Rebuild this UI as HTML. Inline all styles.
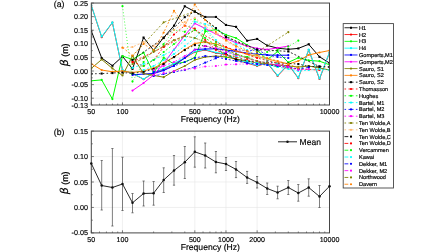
<!DOCTYPE html>
<html><head><meta charset="utf-8"><title>Figure</title>
<style>html,body{margin:0;padding:0;background:#fff}body{width:448px;height:252px;overflow:hidden}svg{display:block;filter:blur(0.3px)}text{stroke:#000;stroke-width:0.16px}</style>
</head><body>
<svg width="448" height="252" viewBox="0 0 448 252" font-family="'Liberation Sans', sans-serif" fill="#000" text-rendering="geometricPrecision">
<rect width="448" height="252" fill="#fff"/>
<g stroke="#e6e6e6" stroke-width="0.6" fill="none">
<path d="M91.3 16.64H329.5"/>
<path d="M91.3 30.24H329.5"/>
<path d="M91.3 43.83H329.5"/>
<path d="M91.3 57.42H329.5"/>
<path d="M91.3 71.02H329.5"/>
<path d="M91.3 84.61H329.5"/>
<path d="M91.3 98.20H329.5"/>
<path d="M122.46 3.05V105.0"/>
<path d="M194.82 3.05V105.0"/>
<path d="M225.98 3.05V105.0"/>
<path d="M91.3 156.55H329.5"/>
<path d="M91.3 182.00H329.5"/>
<path d="M91.3 207.45H329.5"/>
<path d="M122.46 131.1V232.9"/>
<path d="M194.82 131.1V232.9"/>
<path d="M225.98 131.1V232.9"/>
<path d="M257.14 131.1V232.9"/>
</g>
<defs><clipPath id="ca"><rect x="91.3" y="3.05" width="238.2" height="101.95"/></clipPath></defs>
<g clip-path="url(#ca)" fill="none" stroke-linejoin="round">
<path d="M91.3 31.0L101.7 58.0L112.4 65.7L122.5 56.4L132.5 68.8L143.6 37.5L153.6 50.3L163.7 37.5L174.0 25.7L184.8 6.3L194.8 11.6L205.2 17.0L215.9 17.0L226.0 25.0L236.0 26.8L247.1 40.7L257.1 38.9L267.2 45.5L277.6 48.1L288.3 49.3L298.3 48.4L308.7 44.3L319.5 56.8L329.5 63.0" stroke="#000" stroke-width="1"/>
<rect x="90.2" y="29.9" width="2.1" height="2.1" fill="#000" stroke="none"/>
<rect x="100.6" y="57.0" width="2.1" height="2.1" fill="#000" stroke="none"/>
<rect x="111.4" y="64.7" width="2.1" height="2.1" fill="#000" stroke="none"/>
<rect x="121.4" y="55.4" width="2.1" height="2.1" fill="#000" stroke="none"/>
<rect x="131.4" y="67.8" width="2.1" height="2.1" fill="#000" stroke="none"/>
<rect x="142.5" y="36.5" width="2.1" height="2.1" fill="#000" stroke="none"/>
<rect x="152.6" y="49.2" width="2.1" height="2.1" fill="#000" stroke="none"/>
<rect x="162.6" y="36.5" width="2.1" height="2.1" fill="#000" stroke="none"/>
<rect x="173.0" y="24.6" width="2.1" height="2.1" fill="#000" stroke="none"/>
<rect x="183.7" y="5.2" width="2.1" height="2.1" fill="#000" stroke="none"/>
<rect x="193.8" y="10.5" width="2.1" height="2.1" fill="#000" stroke="none"/>
<rect x="204.2" y="15.9" width="2.1" height="2.1" fill="#000" stroke="none"/>
<rect x="214.9" y="15.9" width="2.1" height="2.1" fill="#000" stroke="none"/>
<rect x="224.9" y="23.9" width="2.1" height="2.1" fill="#000" stroke="none"/>
<rect x="235.0" y="25.8" width="2.1" height="2.1" fill="#000" stroke="none"/>
<rect x="246.1" y="39.7" width="2.1" height="2.1" fill="#000" stroke="none"/>
<rect x="256.1" y="37.9" width="2.1" height="2.1" fill="#000" stroke="none"/>
<rect x="266.1" y="44.5" width="2.1" height="2.1" fill="#000" stroke="none"/>
<rect x="276.5" y="47.1" width="2.1" height="2.1" fill="#000" stroke="none"/>
<rect x="287.3" y="48.2" width="2.1" height="2.1" fill="#000" stroke="none"/>
<rect x="297.3" y="47.4" width="2.1" height="2.1" fill="#000" stroke="none"/>
<rect x="307.7" y="43.2" width="2.1" height="2.1" fill="#000" stroke="none"/>
<rect x="318.4" y="55.8" width="2.1" height="2.1" fill="#000" stroke="none"/>
<rect x="328.4" y="62.0" width="2.1" height="2.1" fill="#000" stroke="none"/>
<path d="M91.3 5.4L101.7 37.2L112.4 22.6L122.5 70.3L132.5 73.6L143.6 79.2L153.6 73.0L163.7 69.0L174.0 64.0L184.8 58.0L194.8 52.0L205.2 50.0L215.9 53.0L226.0 54.5L236.0 60.0L247.1 63.0L257.1 66.0L267.2 63.0L277.6 76.0L288.3 64.5L298.3 78.2L308.7 50.0L319.5 79.0L329.5 52.5" stroke="#ff0000" stroke-width="1"/>
<circle cx="91.3" cy="5.4" r="1.1" fill="#ff0000" stroke="none"/>
<circle cx="101.7" cy="37.2" r="1.1" fill="#ff0000" stroke="none"/>
<circle cx="112.4" cy="22.6" r="1.1" fill="#ff0000" stroke="none"/>
<circle cx="122.5" cy="70.3" r="1.1" fill="#ff0000" stroke="none"/>
<circle cx="132.5" cy="73.6" r="1.1" fill="#ff0000" stroke="none"/>
<circle cx="143.6" cy="79.2" r="1.1" fill="#ff0000" stroke="none"/>
<circle cx="153.6" cy="73.0" r="1.1" fill="#ff0000" stroke="none"/>
<circle cx="163.7" cy="69.0" r="1.1" fill="#ff0000" stroke="none"/>
<circle cx="174.0" cy="64.0" r="1.1" fill="#ff0000" stroke="none"/>
<circle cx="184.8" cy="58.0" r="1.1" fill="#ff0000" stroke="none"/>
<circle cx="194.8" cy="52.0" r="1.1" fill="#ff0000" stroke="none"/>
<circle cx="205.2" cy="50.0" r="1.1" fill="#ff0000" stroke="none"/>
<circle cx="215.9" cy="53.0" r="1.1" fill="#ff0000" stroke="none"/>
<circle cx="226.0" cy="54.5" r="1.1" fill="#ff0000" stroke="none"/>
<circle cx="236.0" cy="60.0" r="1.1" fill="#ff0000" stroke="none"/>
<circle cx="247.1" cy="63.0" r="1.1" fill="#ff0000" stroke="none"/>
<circle cx="257.1" cy="66.0" r="1.1" fill="#ff0000" stroke="none"/>
<circle cx="267.2" cy="63.0" r="1.1" fill="#ff0000" stroke="none"/>
<circle cx="277.6" cy="76.0" r="1.1" fill="#ff0000" stroke="none"/>
<circle cx="288.3" cy="64.5" r="1.1" fill="#ff0000" stroke="none"/>
<circle cx="298.3" cy="78.2" r="1.1" fill="#ff0000" stroke="none"/>
<circle cx="308.7" cy="50.0" r="1.1" fill="#ff0000" stroke="none"/>
<circle cx="319.5" cy="79.0" r="1.1" fill="#ff0000" stroke="none"/>
<circle cx="329.5" cy="52.5" r="1.1" fill="#ff0000" stroke="none"/>
<path d="M91.3 80.8L101.7 79.9L112.4 99.1L122.5 56.0L132.5 59.5L143.6 52.6L153.6 73.0L163.7 57.7L174.0 64.0L184.8 62.0L194.8 57.5L205.2 31.6L215.9 29.5L226.0 34.8L236.0 38.0L247.1 45.0L257.1 50.0L267.2 59.7L277.6 51.5L288.3 62.4L298.3 57.8L308.7 60.4L319.5 61.2L329.5 64.8" stroke="#00ff00" stroke-width="1"/>
<circle cx="91.3" cy="80.8" r="1.1" fill="#00ff00" stroke="none"/>
<circle cx="101.7" cy="79.9" r="1.1" fill="#00ff00" stroke="none"/>
<circle cx="112.4" cy="99.1" r="1.1" fill="#00ff00" stroke="none"/>
<circle cx="122.5" cy="56.0" r="1.1" fill="#00ff00" stroke="none"/>
<circle cx="132.5" cy="59.5" r="1.1" fill="#00ff00" stroke="none"/>
<circle cx="143.6" cy="52.6" r="1.1" fill="#00ff00" stroke="none"/>
<circle cx="153.6" cy="73.0" r="1.1" fill="#00ff00" stroke="none"/>
<circle cx="163.7" cy="57.7" r="1.1" fill="#00ff00" stroke="none"/>
<circle cx="174.0" cy="64.0" r="1.1" fill="#00ff00" stroke="none"/>
<circle cx="184.8" cy="62.0" r="1.1" fill="#00ff00" stroke="none"/>
<circle cx="194.8" cy="57.5" r="1.1" fill="#00ff00" stroke="none"/>
<circle cx="205.2" cy="31.6" r="1.1" fill="#00ff00" stroke="none"/>
<circle cx="215.9" cy="29.5" r="1.1" fill="#00ff00" stroke="none"/>
<circle cx="226.0" cy="34.8" r="1.1" fill="#00ff00" stroke="none"/>
<circle cx="236.0" cy="38.0" r="1.1" fill="#00ff00" stroke="none"/>
<circle cx="247.1" cy="45.0" r="1.1" fill="#00ff00" stroke="none"/>
<circle cx="257.1" cy="50.0" r="1.1" fill="#00ff00" stroke="none"/>
<circle cx="267.2" cy="59.7" r="1.1" fill="#00ff00" stroke="none"/>
<circle cx="277.6" cy="51.5" r="1.1" fill="#00ff00" stroke="none"/>
<circle cx="288.3" cy="62.4" r="1.1" fill="#00ff00" stroke="none"/>
<circle cx="298.3" cy="57.8" r="1.1" fill="#00ff00" stroke="none"/>
<circle cx="308.7" cy="60.4" r="1.1" fill="#00ff00" stroke="none"/>
<circle cx="319.5" cy="61.2" r="1.1" fill="#00ff00" stroke="none"/>
<circle cx="329.5" cy="64.8" r="1.1" fill="#00ff00" stroke="none"/>
<path d="M91.3 5.4L101.7 36.6L112.4 22.3L122.5 70.0L132.5 73.4L143.6 79.0L153.6 72.7L163.7 68.5L174.0 63.5L184.8 57.5L194.8 51.5L205.2 49.5L215.9 52.5L226.0 54.0L236.0 59.5L247.1 62.5L257.1 65.5L267.2 62.5L277.6 75.4L288.3 64.0L298.3 77.7L308.7 49.6L319.5 78.4L329.5 52.3" stroke="#00ffff" stroke-width="1"/>
<circle cx="91.3" cy="5.4" r="1.1" fill="#00ffff" stroke="none"/>
<circle cx="101.7" cy="36.6" r="1.1" fill="#00ffff" stroke="none"/>
<circle cx="112.4" cy="22.3" r="1.1" fill="#00ffff" stroke="none"/>
<circle cx="122.5" cy="70.0" r="1.1" fill="#00ffff" stroke="none"/>
<circle cx="132.5" cy="73.4" r="1.1" fill="#00ffff" stroke="none"/>
<circle cx="143.6" cy="79.0" r="1.1" fill="#00ffff" stroke="none"/>
<circle cx="153.6" cy="72.7" r="1.1" fill="#00ffff" stroke="none"/>
<circle cx="163.7" cy="68.5" r="1.1" fill="#00ffff" stroke="none"/>
<circle cx="174.0" cy="63.5" r="1.1" fill="#00ffff" stroke="none"/>
<circle cx="184.8" cy="57.5" r="1.1" fill="#00ffff" stroke="none"/>
<circle cx="194.8" cy="51.5" r="1.1" fill="#00ffff" stroke="none"/>
<circle cx="205.2" cy="49.5" r="1.1" fill="#00ffff" stroke="none"/>
<circle cx="215.9" cy="52.5" r="1.1" fill="#00ffff" stroke="none"/>
<circle cx="226.0" cy="54.0" r="1.1" fill="#00ffff" stroke="none"/>
<circle cx="236.0" cy="59.5" r="1.1" fill="#00ffff" stroke="none"/>
<circle cx="247.1" cy="62.5" r="1.1" fill="#00ffff" stroke="none"/>
<circle cx="257.1" cy="65.5" r="1.1" fill="#00ffff" stroke="none"/>
<circle cx="267.2" cy="62.5" r="1.1" fill="#00ffff" stroke="none"/>
<circle cx="277.6" cy="75.4" r="1.1" fill="#00ffff" stroke="none"/>
<circle cx="288.3" cy="64.0" r="1.1" fill="#00ffff" stroke="none"/>
<circle cx="298.3" cy="77.7" r="1.1" fill="#00ffff" stroke="none"/>
<circle cx="308.7" cy="49.6" r="1.1" fill="#00ffff" stroke="none"/>
<circle cx="319.5" cy="78.4" r="1.1" fill="#00ffff" stroke="none"/>
<circle cx="329.5" cy="52.3" r="1.1" fill="#00ffff" stroke="none"/>
<path d="M132.5 74.9L143.6 74.0L153.6 73.5L163.7 70.5L174.0 65.5L184.8 58.0L194.8 49.5L205.2 49.0L215.9 48.8L226.0 50.0L236.0 51.5L247.1 53.0L257.1 54.2L267.2 55.0L277.6 55.2L288.3 55.2" stroke="#0000ff" stroke-width="1"/>
<circle cx="132.5" cy="74.9" r="1.1" fill="#0000ff" stroke="none"/>
<circle cx="143.6" cy="74.0" r="1.1" fill="#0000ff" stroke="none"/>
<circle cx="153.6" cy="73.5" r="1.1" fill="#0000ff" stroke="none"/>
<circle cx="163.7" cy="70.5" r="1.1" fill="#0000ff" stroke="none"/>
<circle cx="174.0" cy="65.5" r="1.1" fill="#0000ff" stroke="none"/>
<circle cx="184.8" cy="58.0" r="1.1" fill="#0000ff" stroke="none"/>
<circle cx="194.8" cy="49.5" r="1.1" fill="#0000ff" stroke="none"/>
<circle cx="205.2" cy="49.0" r="1.1" fill="#0000ff" stroke="none"/>
<circle cx="215.9" cy="48.8" r="1.1" fill="#0000ff" stroke="none"/>
<circle cx="226.0" cy="50.0" r="1.1" fill="#0000ff" stroke="none"/>
<circle cx="236.0" cy="51.5" r="1.1" fill="#0000ff" stroke="none"/>
<circle cx="247.1" cy="53.0" r="1.1" fill="#0000ff" stroke="none"/>
<circle cx="257.1" cy="54.2" r="1.1" fill="#0000ff" stroke="none"/>
<circle cx="267.2" cy="55.0" r="1.1" fill="#0000ff" stroke="none"/>
<circle cx="277.6" cy="55.2" r="1.1" fill="#0000ff" stroke="none"/>
<circle cx="288.3" cy="55.2" r="1.1" fill="#0000ff" stroke="none"/>
<path d="M132.5 90.6L143.6 83.0L153.6 75.0L163.7 63.5L174.0 49.6L184.8 35.4L194.8 23.4L205.2 28.5L215.9 34.0L226.0 38.7L236.0 42.5L247.1 46.0L257.1 48.4L267.2 49.5L277.6 47.9L288.3 46.1" stroke="#ff00ff" stroke-width="1"/>
<circle cx="132.5" cy="90.6" r="1.1" fill="#ff00ff" stroke="none"/>
<circle cx="143.6" cy="83.0" r="1.1" fill="#ff00ff" stroke="none"/>
<circle cx="153.6" cy="75.0" r="1.1" fill="#ff00ff" stroke="none"/>
<circle cx="163.7" cy="63.5" r="1.1" fill="#ff00ff" stroke="none"/>
<circle cx="174.0" cy="49.6" r="1.1" fill="#ff00ff" stroke="none"/>
<circle cx="184.8" cy="35.4" r="1.1" fill="#ff00ff" stroke="none"/>
<circle cx="194.8" cy="23.4" r="1.1" fill="#ff00ff" stroke="none"/>
<circle cx="205.2" cy="28.5" r="1.1" fill="#ff00ff" stroke="none"/>
<circle cx="215.9" cy="34.0" r="1.1" fill="#ff00ff" stroke="none"/>
<circle cx="226.0" cy="38.7" r="1.1" fill="#ff00ff" stroke="none"/>
<circle cx="236.0" cy="42.5" r="1.1" fill="#ff00ff" stroke="none"/>
<circle cx="247.1" cy="46.0" r="1.1" fill="#ff00ff" stroke="none"/>
<circle cx="257.1" cy="48.4" r="1.1" fill="#ff00ff" stroke="none"/>
<circle cx="267.2" cy="49.5" r="1.1" fill="#ff00ff" stroke="none"/>
<circle cx="277.6" cy="47.9" r="1.1" fill="#ff00ff" stroke="none"/>
<circle cx="288.3" cy="46.1" r="1.1" fill="#ff00ff" stroke="none"/>
<path d="M91.3 68.4L101.7 59.5L112.4 68.4L122.5 75.5L132.5 56.0L143.6 73.6L153.6 75.4L163.7 77.2L174.0 71.0L184.8 66.0L194.8 60.0L205.2 57.0L215.9 56.0L226.0 57.0L236.0 59.0L247.1 61.0L257.1 63.0L267.2 64.0L277.6 65.0L288.3 66.0L298.3 67.0L308.7 66.0L319.5 68.0L329.5 70.0" stroke="#808000" stroke-width="1"/>
<circle cx="91.3" cy="68.4" r="1.1" fill="#808000" stroke="none"/>
<circle cx="101.7" cy="59.5" r="1.1" fill="#808000" stroke="none"/>
<circle cx="112.4" cy="68.4" r="1.1" fill="#808000" stroke="none"/>
<circle cx="122.5" cy="75.5" r="1.1" fill="#808000" stroke="none"/>
<circle cx="132.5" cy="56.0" r="1.1" fill="#808000" stroke="none"/>
<circle cx="143.6" cy="73.6" r="1.1" fill="#808000" stroke="none"/>
<circle cx="153.6" cy="75.4" r="1.1" fill="#808000" stroke="none"/>
<circle cx="163.7" cy="77.2" r="1.1" fill="#808000" stroke="none"/>
<circle cx="174.0" cy="71.0" r="1.1" fill="#808000" stroke="none"/>
<circle cx="184.8" cy="66.0" r="1.1" fill="#808000" stroke="none"/>
<circle cx="194.8" cy="60.0" r="1.1" fill="#808000" stroke="none"/>
<circle cx="205.2" cy="57.0" r="1.1" fill="#808000" stroke="none"/>
<circle cx="215.9" cy="56.0" r="1.1" fill="#808000" stroke="none"/>
<circle cx="226.0" cy="57.0" r="1.1" fill="#808000" stroke="none"/>
<circle cx="236.0" cy="59.0" r="1.1" fill="#808000" stroke="none"/>
<circle cx="247.1" cy="61.0" r="1.1" fill="#808000" stroke="none"/>
<circle cx="257.1" cy="63.0" r="1.1" fill="#808000" stroke="none"/>
<circle cx="267.2" cy="64.0" r="1.1" fill="#808000" stroke="none"/>
<circle cx="277.6" cy="65.0" r="1.1" fill="#808000" stroke="none"/>
<circle cx="288.3" cy="66.0" r="1.1" fill="#808000" stroke="none"/>
<circle cx="298.3" cy="67.0" r="1.1" fill="#808000" stroke="none"/>
<circle cx="308.7" cy="66.0" r="1.1" fill="#808000" stroke="none"/>
<circle cx="319.5" cy="68.0" r="1.1" fill="#808000" stroke="none"/>
<circle cx="329.5" cy="70.0" r="1.1" fill="#808000" stroke="none"/>
<path d="M91.3 63.8L101.7 70.0L112.4 71.8L122.5 71.0L132.5 72.5L143.6 71.0L153.6 68.0L163.7 63.0L174.0 57.0L184.8 49.5L194.8 43.5L205.2 42.0L215.9 44.0L226.0 47.5L236.0 51.0L247.1 54.0L257.1 56.5L267.2 59.0L277.6 61.5L288.3 64.0L298.3 61.0L308.7 55.0L319.5 52.5L329.5 50.5" stroke="#ff8000" stroke-width="1"/>
<circle cx="91.3" cy="63.8" r="1.1" fill="#ff8000" stroke="none"/>
<circle cx="101.7" cy="70.0" r="1.1" fill="#ff8000" stroke="none"/>
<circle cx="112.4" cy="71.8" r="1.1" fill="#ff8000" stroke="none"/>
<circle cx="122.5" cy="71.0" r="1.1" fill="#ff8000" stroke="none"/>
<circle cx="132.5" cy="72.5" r="1.1" fill="#ff8000" stroke="none"/>
<circle cx="143.6" cy="71.0" r="1.1" fill="#ff8000" stroke="none"/>
<circle cx="153.6" cy="68.0" r="1.1" fill="#ff8000" stroke="none"/>
<circle cx="163.7" cy="63.0" r="1.1" fill="#ff8000" stroke="none"/>
<circle cx="174.0" cy="57.0" r="1.1" fill="#ff8000" stroke="none"/>
<circle cx="184.8" cy="49.5" r="1.1" fill="#ff8000" stroke="none"/>
<circle cx="194.8" cy="43.5" r="1.1" fill="#ff8000" stroke="none"/>
<circle cx="205.2" cy="42.0" r="1.1" fill="#ff8000" stroke="none"/>
<circle cx="215.9" cy="44.0" r="1.1" fill="#ff8000" stroke="none"/>
<circle cx="226.0" cy="47.5" r="1.1" fill="#ff8000" stroke="none"/>
<circle cx="236.0" cy="51.0" r="1.1" fill="#ff8000" stroke="none"/>
<circle cx="247.1" cy="54.0" r="1.1" fill="#ff8000" stroke="none"/>
<circle cx="257.1" cy="56.5" r="1.1" fill="#ff8000" stroke="none"/>
<circle cx="267.2" cy="59.0" r="1.1" fill="#ff8000" stroke="none"/>
<circle cx="277.6" cy="61.5" r="1.1" fill="#ff8000" stroke="none"/>
<circle cx="288.3" cy="64.0" r="1.1" fill="#ff8000" stroke="none"/>
<circle cx="298.3" cy="61.0" r="1.1" fill="#ff8000" stroke="none"/>
<circle cx="308.7" cy="55.0" r="1.1" fill="#ff8000" stroke="none"/>
<circle cx="319.5" cy="52.5" r="1.1" fill="#ff8000" stroke="none"/>
<circle cx="329.5" cy="50.5" r="1.1" fill="#ff8000" stroke="none"/>
<path d="M91.3 73.8L101.7 73.6L112.4 73.0L122.5 72.5L132.5 73.4L143.6 71.8L153.6 69.0L163.7 64.0L174.0 57.0L184.8 50.0L194.8 45.0L205.2 46.0L215.9 49.0L226.0 53.8L236.0 59.5L247.1 61.0L257.1 62.0L267.2 62.5L277.6 63.0L288.3 63.5L298.3 64.0L308.7 66.5L319.5 66.5L329.5 67.0" stroke="#000" stroke-width="0.8" stroke-dasharray="1.6 2.2"/>
<rect x="90.2" y="72.8" width="2.1" height="2.1" fill="#000" stroke="none"/>
<rect x="100.6" y="72.5" width="2.1" height="2.1" fill="#000" stroke="none"/>
<rect x="111.4" y="72.0" width="2.1" height="2.1" fill="#000" stroke="none"/>
<rect x="121.4" y="71.5" width="2.1" height="2.1" fill="#000" stroke="none"/>
<rect x="131.4" y="72.4" width="2.1" height="2.1" fill="#000" stroke="none"/>
<rect x="142.5" y="70.8" width="2.1" height="2.1" fill="#000" stroke="none"/>
<rect x="152.6" y="68.0" width="2.1" height="2.1" fill="#000" stroke="none"/>
<rect x="162.6" y="63.0" width="2.1" height="2.1" fill="#000" stroke="none"/>
<rect x="173.0" y="56.0" width="2.1" height="2.1" fill="#000" stroke="none"/>
<rect x="183.7" y="49.0" width="2.1" height="2.1" fill="#000" stroke="none"/>
<rect x="193.8" y="44.0" width="2.1" height="2.1" fill="#000" stroke="none"/>
<rect x="204.2" y="45.0" width="2.1" height="2.1" fill="#000" stroke="none"/>
<rect x="214.9" y="48.0" width="2.1" height="2.1" fill="#000" stroke="none"/>
<rect x="224.9" y="52.8" width="2.1" height="2.1" fill="#000" stroke="none"/>
<rect x="235.0" y="58.5" width="2.1" height="2.1" fill="#000" stroke="none"/>
<rect x="246.1" y="60.0" width="2.1" height="2.1" fill="#000" stroke="none"/>
<rect x="256.1" y="61.0" width="2.1" height="2.1" fill="#000" stroke="none"/>
<rect x="266.1" y="61.5" width="2.1" height="2.1" fill="#000" stroke="none"/>
<rect x="276.5" y="62.0" width="2.1" height="2.1" fill="#000" stroke="none"/>
<rect x="287.3" y="62.5" width="2.1" height="2.1" fill="#000" stroke="none"/>
<rect x="297.3" y="63.0" width="2.1" height="2.1" fill="#000" stroke="none"/>
<rect x="307.7" y="65.5" width="2.1" height="2.1" fill="#000" stroke="none"/>
<rect x="318.4" y="65.5" width="2.1" height="2.1" fill="#000" stroke="none"/>
<rect x="328.4" y="66.0" width="2.1" height="2.1" fill="#000" stroke="none"/>
<path d="M132.5 62.0L143.6 66.0L153.6 60.0L163.7 47.0L174.0 34.5L184.8 25.5L194.8 28.7L205.2 40.0L215.9 50.0L226.0 54.4L236.0 57.0L247.1 60.0L257.1 62.0L267.2 64.0L277.6 66.0L288.3 68.0L298.3 69.0L308.7 69.5L319.5 70.0" stroke="#ff0000" stroke-width="0.8" stroke-dasharray="2 1.9"/>
<circle cx="132.5" cy="62.0" r="1.1" fill="#ff0000" stroke="none"/>
<circle cx="143.6" cy="66.0" r="1.1" fill="#ff0000" stroke="none"/>
<circle cx="153.6" cy="60.0" r="1.1" fill="#ff0000" stroke="none"/>
<circle cx="163.7" cy="47.0" r="1.1" fill="#ff0000" stroke="none"/>
<circle cx="174.0" cy="34.5" r="1.1" fill="#ff0000" stroke="none"/>
<circle cx="184.8" cy="25.5" r="1.1" fill="#ff0000" stroke="none"/>
<circle cx="194.8" cy="28.7" r="1.1" fill="#ff0000" stroke="none"/>
<circle cx="205.2" cy="40.0" r="1.1" fill="#ff0000" stroke="none"/>
<circle cx="215.9" cy="50.0" r="1.1" fill="#ff0000" stroke="none"/>
<circle cx="226.0" cy="54.4" r="1.1" fill="#ff0000" stroke="none"/>
<circle cx="236.0" cy="57.0" r="1.1" fill="#ff0000" stroke="none"/>
<circle cx="247.1" cy="60.0" r="1.1" fill="#ff0000" stroke="none"/>
<circle cx="257.1" cy="62.0" r="1.1" fill="#ff0000" stroke="none"/>
<circle cx="267.2" cy="64.0" r="1.1" fill="#ff0000" stroke="none"/>
<circle cx="277.6" cy="66.0" r="1.1" fill="#ff0000" stroke="none"/>
<circle cx="288.3" cy="68.0" r="1.1" fill="#ff0000" stroke="none"/>
<circle cx="298.3" cy="69.0" r="1.1" fill="#ff0000" stroke="none"/>
<circle cx="308.7" cy="69.5" r="1.1" fill="#ff0000" stroke="none"/>
<circle cx="319.5" cy="70.0" r="1.1" fill="#ff0000" stroke="none"/>
<path d="M122.5 6.2L132.5 81.6L143.6 62.0L153.6 50.0L163.7 44.0L174.0 30.0L184.8 31.8L194.8 19.1L205.2 30.0L215.9 42.0L226.0 50.0L236.0 56.0L247.1 57.0L257.1 55.0L267.2 52.0L277.6 50.0L288.3 46.5L298.3 40.7" stroke="#00ff00" stroke-width="0.8" stroke-dasharray="0.9 2.2"/>
<circle cx="122.5" cy="6.2" r="1.1" fill="#00ff00" stroke="none"/>
<circle cx="132.5" cy="81.6" r="1.1" fill="#00ff00" stroke="none"/>
<circle cx="143.6" cy="62.0" r="1.1" fill="#00ff00" stroke="none"/>
<circle cx="153.6" cy="50.0" r="1.1" fill="#00ff00" stroke="none"/>
<circle cx="163.7" cy="44.0" r="1.1" fill="#00ff00" stroke="none"/>
<circle cx="174.0" cy="30.0" r="1.1" fill="#00ff00" stroke="none"/>
<circle cx="184.8" cy="31.8" r="1.1" fill="#00ff00" stroke="none"/>
<circle cx="194.8" cy="19.1" r="1.1" fill="#00ff00" stroke="none"/>
<circle cx="205.2" cy="30.0" r="1.1" fill="#00ff00" stroke="none"/>
<circle cx="215.9" cy="42.0" r="1.1" fill="#00ff00" stroke="none"/>
<circle cx="226.0" cy="50.0" r="1.1" fill="#00ff00" stroke="none"/>
<circle cx="236.0" cy="56.0" r="1.1" fill="#00ff00" stroke="none"/>
<circle cx="247.1" cy="57.0" r="1.1" fill="#00ff00" stroke="none"/>
<circle cx="257.1" cy="55.0" r="1.1" fill="#00ff00" stroke="none"/>
<circle cx="267.2" cy="52.0" r="1.1" fill="#00ff00" stroke="none"/>
<circle cx="277.6" cy="50.0" r="1.1" fill="#00ff00" stroke="none"/>
<circle cx="288.3" cy="46.5" r="1.1" fill="#00ff00" stroke="none"/>
<circle cx="298.3" cy="40.7" r="1.1" fill="#00ff00" stroke="none"/>
<path d="M132.5 67.8L143.6 64.0L153.6 60.0L163.7 55.0L174.0 50.0L184.8 40.0L194.8 21.7L205.2 24.0L215.9 28.0L226.0 36.0L236.0 44.0L247.1 50.0L257.1 56.0L267.2 60.0L277.6 64.0L288.3 66.0" stroke="#00ffff" stroke-width="0.8" stroke-dasharray="2 1.9"/>
<circle cx="132.5" cy="67.8" r="1.1" fill="#00ffff" stroke="none"/>
<circle cx="143.6" cy="64.0" r="1.1" fill="#00ffff" stroke="none"/>
<circle cx="153.6" cy="60.0" r="1.1" fill="#00ffff" stroke="none"/>
<circle cx="163.7" cy="55.0" r="1.1" fill="#00ffff" stroke="none"/>
<circle cx="174.0" cy="50.0" r="1.1" fill="#00ffff" stroke="none"/>
<circle cx="184.8" cy="40.0" r="1.1" fill="#00ffff" stroke="none"/>
<circle cx="194.8" cy="21.7" r="1.1" fill="#00ffff" stroke="none"/>
<circle cx="205.2" cy="24.0" r="1.1" fill="#00ffff" stroke="none"/>
<circle cx="215.9" cy="28.0" r="1.1" fill="#00ffff" stroke="none"/>
<circle cx="226.0" cy="36.0" r="1.1" fill="#00ffff" stroke="none"/>
<circle cx="236.0" cy="44.0" r="1.1" fill="#00ffff" stroke="none"/>
<circle cx="247.1" cy="50.0" r="1.1" fill="#00ffff" stroke="none"/>
<circle cx="257.1" cy="56.0" r="1.1" fill="#00ffff" stroke="none"/>
<circle cx="267.2" cy="60.0" r="1.1" fill="#00ffff" stroke="none"/>
<circle cx="277.6" cy="64.0" r="1.1" fill="#00ffff" stroke="none"/>
<circle cx="288.3" cy="66.0" r="1.1" fill="#00ffff" stroke="none"/>
<path d="M153.6 76.0L163.7 74.0L174.0 72.0L184.8 70.0L194.8 67.0L205.2 62.7L215.9 58.3L226.0 52.5L236.0 49.5L247.1 51.0L257.1 49.5L267.2 55.0L277.6 57.0L288.3 58.0" stroke="#0000ff" stroke-width="0.8" stroke-dasharray="2 1.9"/>
<circle cx="153.6" cy="76.0" r="1.1" fill="#0000ff" stroke="none"/>
<circle cx="163.7" cy="74.0" r="1.1" fill="#0000ff" stroke="none"/>
<circle cx="174.0" cy="72.0" r="1.1" fill="#0000ff" stroke="none"/>
<circle cx="184.8" cy="70.0" r="1.1" fill="#0000ff" stroke="none"/>
<circle cx="194.8" cy="67.0" r="1.1" fill="#0000ff" stroke="none"/>
<circle cx="205.2" cy="62.7" r="1.1" fill="#0000ff" stroke="none"/>
<circle cx="215.9" cy="58.3" r="1.1" fill="#0000ff" stroke="none"/>
<circle cx="226.0" cy="52.5" r="1.1" fill="#0000ff" stroke="none"/>
<circle cx="236.0" cy="49.5" r="1.1" fill="#0000ff" stroke="none"/>
<circle cx="247.1" cy="51.0" r="1.1" fill="#0000ff" stroke="none"/>
<circle cx="257.1" cy="49.5" r="1.1" fill="#0000ff" stroke="none"/>
<circle cx="267.2" cy="55.0" r="1.1" fill="#0000ff" stroke="none"/>
<circle cx="277.6" cy="57.0" r="1.1" fill="#0000ff" stroke="none"/>
<circle cx="288.3" cy="58.0" r="1.1" fill="#0000ff" stroke="none"/>
<path d="M153.6 75.0L163.7 73.0L174.0 71.0L184.8 69.5L194.8 68.4L205.2 66.5L215.9 66.0L226.0 64.6L236.0 64.3L247.1 64.0L257.1 64.0L267.2 64.5L277.6 65.0L288.3 65.5" stroke="#ff00ff" stroke-width="0.8" stroke-dasharray="0.9 2.2"/>
<circle cx="153.6" cy="75.0" r="1.1" fill="#ff00ff" stroke="none"/>
<circle cx="163.7" cy="73.0" r="1.1" fill="#ff00ff" stroke="none"/>
<circle cx="174.0" cy="71.0" r="1.1" fill="#ff00ff" stroke="none"/>
<circle cx="184.8" cy="69.5" r="1.1" fill="#ff00ff" stroke="none"/>
<circle cx="194.8" cy="68.4" r="1.1" fill="#ff00ff" stroke="none"/>
<circle cx="205.2" cy="66.5" r="1.1" fill="#ff00ff" stroke="none"/>
<circle cx="215.9" cy="66.0" r="1.1" fill="#ff00ff" stroke="none"/>
<circle cx="226.0" cy="64.6" r="1.1" fill="#ff00ff" stroke="none"/>
<circle cx="236.0" cy="64.3" r="1.1" fill="#ff00ff" stroke="none"/>
<circle cx="247.1" cy="64.0" r="1.1" fill="#ff00ff" stroke="none"/>
<circle cx="257.1" cy="64.0" r="1.1" fill="#ff00ff" stroke="none"/>
<circle cx="267.2" cy="64.5" r="1.1" fill="#ff00ff" stroke="none"/>
<circle cx="277.6" cy="65.0" r="1.1" fill="#ff00ff" stroke="none"/>
<circle cx="288.3" cy="65.5" r="1.1" fill="#ff00ff" stroke="none"/>
<path d="M132.5 56.0L163.7 22.3L194.8 11.4L226.0 36.0L257.1 52.2L288.3 32.2" stroke="#808000" stroke-width="0.8" stroke-dasharray="2 1.9"/>
<circle cx="132.5" cy="56.0" r="1.1" fill="#808000" stroke="none"/>
<circle cx="163.7" cy="22.3" r="1.1" fill="#808000" stroke="none"/>
<circle cx="194.8" cy="11.4" r="1.1" fill="#808000" stroke="none"/>
<circle cx="226.0" cy="36.0" r="1.1" fill="#808000" stroke="none"/>
<circle cx="257.1" cy="52.2" r="1.1" fill="#808000" stroke="none"/>
<circle cx="288.3" cy="32.2" r="1.1" fill="#808000" stroke="none"/>
<path d="M122.5 48.0L132.5 47.0L143.6 42.0L153.6 46.0L163.7 38.0L174.0 30.0L184.8 22.0L194.8 18.0L205.2 26.0L215.9 34.0L226.0 41.0L236.0 47.0L247.1 52.0L257.1 56.0L267.2 59.0L277.6 62.0L288.3 64.0" stroke="#ffb870" stroke-width="0.8" stroke-dasharray="2 1.9"/>
<circle cx="122.5" cy="48.0" r="1.1" fill="#ffb870" stroke="none"/>
<circle cx="132.5" cy="47.0" r="1.1" fill="#ffb870" stroke="none"/>
<circle cx="143.6" cy="42.0" r="1.1" fill="#ffb870" stroke="none"/>
<circle cx="153.6" cy="46.0" r="1.1" fill="#ffb870" stroke="none"/>
<circle cx="163.7" cy="38.0" r="1.1" fill="#ffb870" stroke="none"/>
<circle cx="174.0" cy="30.0" r="1.1" fill="#ffb870" stroke="none"/>
<circle cx="184.8" cy="22.0" r="1.1" fill="#ffb870" stroke="none"/>
<circle cx="194.8" cy="18.0" r="1.1" fill="#ffb870" stroke="none"/>
<circle cx="205.2" cy="26.0" r="1.1" fill="#ffb870" stroke="none"/>
<circle cx="215.9" cy="34.0" r="1.1" fill="#ffb870" stroke="none"/>
<circle cx="226.0" cy="41.0" r="1.1" fill="#ffb870" stroke="none"/>
<circle cx="236.0" cy="47.0" r="1.1" fill="#ffb870" stroke="none"/>
<circle cx="247.1" cy="52.0" r="1.1" fill="#ffb870" stroke="none"/>
<circle cx="257.1" cy="56.0" r="1.1" fill="#ffb870" stroke="none"/>
<circle cx="267.2" cy="59.0" r="1.1" fill="#ffb870" stroke="none"/>
<circle cx="277.6" cy="62.0" r="1.1" fill="#ffb870" stroke="none"/>
<circle cx="288.3" cy="64.0" r="1.1" fill="#ffb870" stroke="none"/>
<path d="M132.5 60.0L163.7 38.0L184.8 17.2L194.8 11.6L215.9 28.1L226.0 37.0L257.1 49.5L288.3 51.4L319.5 66.6" stroke="#000" stroke-width="0.8" stroke-dasharray="2 1.9"/>
<rect x="131.4" y="59.0" width="2.1" height="2.1" fill="#000" stroke="none"/>
<rect x="162.6" y="37.0" width="2.1" height="2.1" fill="#000" stroke="none"/>
<rect x="183.7" y="16.1" width="2.1" height="2.1" fill="#000" stroke="none"/>
<rect x="193.8" y="10.5" width="2.1" height="2.1" fill="#000" stroke="none"/>
<rect x="214.9" y="27.1" width="2.1" height="2.1" fill="#000" stroke="none"/>
<rect x="224.9" y="36.0" width="2.1" height="2.1" fill="#000" stroke="none"/>
<rect x="256.1" y="48.5" width="2.1" height="2.1" fill="#000" stroke="none"/>
<rect x="287.3" y="50.4" width="2.1" height="2.1" fill="#000" stroke="none"/>
<rect x="318.4" y="65.5" width="2.1" height="2.1" fill="#000" stroke="none"/>
<path d="M132.5 62.0L163.7 47.0L194.8 30.0L226.0 47.0L257.1 58.0L288.3 66.0" stroke="#ff0000" stroke-width="0.8" stroke-dasharray="2 1.9"/>
<circle cx="132.5" cy="62.0" r="1.1" fill="#ff0000" stroke="none"/>
<circle cx="163.7" cy="47.0" r="1.1" fill="#ff0000" stroke="none"/>
<circle cx="194.8" cy="30.0" r="1.1" fill="#ff0000" stroke="none"/>
<circle cx="226.0" cy="47.0" r="1.1" fill="#ff0000" stroke="none"/>
<circle cx="257.1" cy="58.0" r="1.1" fill="#ff0000" stroke="none"/>
<circle cx="288.3" cy="66.0" r="1.1" fill="#ff0000" stroke="none"/>
<path d="M143.6 66.0L153.6 60.0L163.7 52.0L174.0 44.0L184.8 36.0L194.8 30.0L205.2 38.0L215.9 45.0L226.0 58.3L236.0 54.0L247.1 57.0L257.1 61.0L267.2 64.0L277.6 67.0" stroke="#00ff00" stroke-width="0.8" stroke-dasharray="2 1.9"/>
<circle cx="143.6" cy="66.0" r="1.1" fill="#00ff00" stroke="none"/>
<circle cx="153.6" cy="60.0" r="1.1" fill="#00ff00" stroke="none"/>
<circle cx="163.7" cy="52.0" r="1.1" fill="#00ff00" stroke="none"/>
<circle cx="174.0" cy="44.0" r="1.1" fill="#00ff00" stroke="none"/>
<circle cx="184.8" cy="36.0" r="1.1" fill="#00ff00" stroke="none"/>
<circle cx="194.8" cy="30.0" r="1.1" fill="#00ff00" stroke="none"/>
<circle cx="205.2" cy="38.0" r="1.1" fill="#00ff00" stroke="none"/>
<circle cx="215.9" cy="45.0" r="1.1" fill="#00ff00" stroke="none"/>
<circle cx="226.0" cy="58.3" r="1.1" fill="#00ff00" stroke="none"/>
<circle cx="236.0" cy="54.0" r="1.1" fill="#00ff00" stroke="none"/>
<circle cx="247.1" cy="57.0" r="1.1" fill="#00ff00" stroke="none"/>
<circle cx="257.1" cy="61.0" r="1.1" fill="#00ff00" stroke="none"/>
<circle cx="267.2" cy="64.0" r="1.1" fill="#00ff00" stroke="none"/>
<circle cx="277.6" cy="67.0" r="1.1" fill="#00ff00" stroke="none"/>
<path d="M143.6 70.0L153.6 66.0L163.7 60.0L174.0 54.0L184.8 46.0L194.8 38.0L205.2 28.0L215.9 40.0L226.0 50.0L236.0 56.0L247.1 61.0L257.1 63.0L267.2 65.0L277.6 67.0L288.3 69.0L298.3 71.0L308.7 70.0L319.5 69.0L329.5 70.0" stroke="#00ffff" stroke-width="0.8" stroke-dasharray="2 1.9"/>
<circle cx="143.6" cy="70.0" r="1.1" fill="#00ffff" stroke="none"/>
<circle cx="153.6" cy="66.0" r="1.1" fill="#00ffff" stroke="none"/>
<circle cx="163.7" cy="60.0" r="1.1" fill="#00ffff" stroke="none"/>
<circle cx="174.0" cy="54.0" r="1.1" fill="#00ffff" stroke="none"/>
<circle cx="184.8" cy="46.0" r="1.1" fill="#00ffff" stroke="none"/>
<circle cx="194.8" cy="38.0" r="1.1" fill="#00ffff" stroke="none"/>
<circle cx="205.2" cy="28.0" r="1.1" fill="#00ffff" stroke="none"/>
<circle cx="215.9" cy="40.0" r="1.1" fill="#00ffff" stroke="none"/>
<circle cx="226.0" cy="50.0" r="1.1" fill="#00ffff" stroke="none"/>
<circle cx="236.0" cy="56.0" r="1.1" fill="#00ffff" stroke="none"/>
<circle cx="247.1" cy="61.0" r="1.1" fill="#00ffff" stroke="none"/>
<circle cx="257.1" cy="63.0" r="1.1" fill="#00ffff" stroke="none"/>
<circle cx="267.2" cy="65.0" r="1.1" fill="#00ffff" stroke="none"/>
<circle cx="277.6" cy="67.0" r="1.1" fill="#00ffff" stroke="none"/>
<circle cx="288.3" cy="69.0" r="1.1" fill="#00ffff" stroke="none"/>
<circle cx="298.3" cy="71.0" r="1.1" fill="#00ffff" stroke="none"/>
<circle cx="308.7" cy="70.0" r="1.1" fill="#00ffff" stroke="none"/>
<circle cx="319.5" cy="69.0" r="1.1" fill="#00ffff" stroke="none"/>
<circle cx="329.5" cy="70.0" r="1.1" fill="#00ffff" stroke="none"/>
<path d="M153.6 72.0L163.7 70.0L174.0 66.0L184.8 62.0L194.8 58.0L205.2 56.0L215.9 57.0L226.0 59.0L236.0 61.0L247.1 63.0L257.1 64.0L267.2 65.0L277.6 66.0L288.3 67.0L298.3 69.0L308.7 67.4" stroke="#0000ff" stroke-width="0.8" stroke-dasharray="2 1.9"/>
<circle cx="153.6" cy="72.0" r="1.1" fill="#0000ff" stroke="none"/>
<circle cx="163.7" cy="70.0" r="1.1" fill="#0000ff" stroke="none"/>
<circle cx="174.0" cy="66.0" r="1.1" fill="#0000ff" stroke="none"/>
<circle cx="184.8" cy="62.0" r="1.1" fill="#0000ff" stroke="none"/>
<circle cx="194.8" cy="58.0" r="1.1" fill="#0000ff" stroke="none"/>
<circle cx="205.2" cy="56.0" r="1.1" fill="#0000ff" stroke="none"/>
<circle cx="215.9" cy="57.0" r="1.1" fill="#0000ff" stroke="none"/>
<circle cx="226.0" cy="59.0" r="1.1" fill="#0000ff" stroke="none"/>
<circle cx="236.0" cy="61.0" r="1.1" fill="#0000ff" stroke="none"/>
<circle cx="247.1" cy="63.0" r="1.1" fill="#0000ff" stroke="none"/>
<circle cx="257.1" cy="64.0" r="1.1" fill="#0000ff" stroke="none"/>
<circle cx="267.2" cy="65.0" r="1.1" fill="#0000ff" stroke="none"/>
<circle cx="277.6" cy="66.0" r="1.1" fill="#0000ff" stroke="none"/>
<circle cx="288.3" cy="67.0" r="1.1" fill="#0000ff" stroke="none"/>
<circle cx="298.3" cy="69.0" r="1.1" fill="#0000ff" stroke="none"/>
<circle cx="308.7" cy="67.4" r="1.1" fill="#0000ff" stroke="none"/>
<path d="M153.6 70.0L163.7 66.0L174.0 62.0L184.8 56.0L194.8 50.0L205.2 46.0L215.9 48.0L226.0 52.0L236.0 55.0L247.1 58.0L257.1 61.0L267.2 63.0L277.6 65.0L288.3 67.0L298.3 70.0L308.7 69.0" stroke="#ff00ff" stroke-width="0.8" stroke-dasharray="2 1.9"/>
<circle cx="153.6" cy="70.0" r="1.1" fill="#ff00ff" stroke="none"/>
<circle cx="163.7" cy="66.0" r="1.1" fill="#ff00ff" stroke="none"/>
<circle cx="174.0" cy="62.0" r="1.1" fill="#ff00ff" stroke="none"/>
<circle cx="184.8" cy="56.0" r="1.1" fill="#ff00ff" stroke="none"/>
<circle cx="194.8" cy="50.0" r="1.1" fill="#ff00ff" stroke="none"/>
<circle cx="205.2" cy="46.0" r="1.1" fill="#ff00ff" stroke="none"/>
<circle cx="215.9" cy="48.0" r="1.1" fill="#ff00ff" stroke="none"/>
<circle cx="226.0" cy="52.0" r="1.1" fill="#ff00ff" stroke="none"/>
<circle cx="236.0" cy="55.0" r="1.1" fill="#ff00ff" stroke="none"/>
<circle cx="247.1" cy="58.0" r="1.1" fill="#ff00ff" stroke="none"/>
<circle cx="257.1" cy="61.0" r="1.1" fill="#ff00ff" stroke="none"/>
<circle cx="267.2" cy="63.0" r="1.1" fill="#ff00ff" stroke="none"/>
<circle cx="277.6" cy="65.0" r="1.1" fill="#ff00ff" stroke="none"/>
<circle cx="288.3" cy="67.0" r="1.1" fill="#ff00ff" stroke="none"/>
<circle cx="298.3" cy="70.0" r="1.1" fill="#ff00ff" stroke="none"/>
<circle cx="308.7" cy="69.0" r="1.1" fill="#ff00ff" stroke="none"/>
<path d="M132.5 64.0L143.6 58.0L153.6 52.0L163.7 46.0L174.0 40.0L184.8 36.0L194.8 38.0L205.2 42.0L215.9 46.0L226.0 50.0L236.0 54.0L247.1 58.0L257.1 61.0L267.2 63.0" stroke="#808000" stroke-width="0.8" stroke-dasharray="3 1.2 1 1.2"/>
<circle cx="132.5" cy="64.0" r="1.1" fill="#808000" stroke="none"/>
<circle cx="143.6" cy="58.0" r="1.1" fill="#808000" stroke="none"/>
<circle cx="153.6" cy="52.0" r="1.1" fill="#808000" stroke="none"/>
<circle cx="163.7" cy="46.0" r="1.1" fill="#808000" stroke="none"/>
<circle cx="174.0" cy="40.0" r="1.1" fill="#808000" stroke="none"/>
<circle cx="184.8" cy="36.0" r="1.1" fill="#808000" stroke="none"/>
<circle cx="194.8" cy="38.0" r="1.1" fill="#808000" stroke="none"/>
<circle cx="205.2" cy="42.0" r="1.1" fill="#808000" stroke="none"/>
<circle cx="215.9" cy="46.0" r="1.1" fill="#808000" stroke="none"/>
<circle cx="226.0" cy="50.0" r="1.1" fill="#808000" stroke="none"/>
<circle cx="236.0" cy="54.0" r="1.1" fill="#808000" stroke="none"/>
<circle cx="247.1" cy="58.0" r="1.1" fill="#808000" stroke="none"/>
<circle cx="257.1" cy="61.0" r="1.1" fill="#808000" stroke="none"/>
<circle cx="267.2" cy="63.0" r="1.1" fill="#808000" stroke="none"/>
<path d="M122.5 47.5L132.5 55.5L143.6 44.0L153.6 50.0L163.7 32.5L174.0 10.9L184.8 26.0L194.8 4.3L205.2 20.0L215.9 32.0L226.0 40.0L236.0 46.0L247.1 51.0L257.1 55.0L267.2 58.0L277.6 61.0L288.3 64.0L298.3 68.0" stroke="#ff8000" stroke-width="0.8" stroke-dasharray="2 1.9"/>
<circle cx="122.5" cy="47.5" r="1.1" fill="#ff8000" stroke="none"/>
<circle cx="132.5" cy="55.5" r="1.1" fill="#ff8000" stroke="none"/>
<circle cx="143.6" cy="44.0" r="1.1" fill="#ff8000" stroke="none"/>
<circle cx="153.6" cy="50.0" r="1.1" fill="#ff8000" stroke="none"/>
<circle cx="163.7" cy="32.5" r="1.1" fill="#ff8000" stroke="none"/>
<circle cx="174.0" cy="10.9" r="1.1" fill="#ff8000" stroke="none"/>
<circle cx="184.8" cy="26.0" r="1.1" fill="#ff8000" stroke="none"/>
<circle cx="194.8" cy="4.3" r="1.1" fill="#ff8000" stroke="none"/>
<circle cx="205.2" cy="20.0" r="1.1" fill="#ff8000" stroke="none"/>
<circle cx="215.9" cy="32.0" r="1.1" fill="#ff8000" stroke="none"/>
<circle cx="226.0" cy="40.0" r="1.1" fill="#ff8000" stroke="none"/>
<circle cx="236.0" cy="46.0" r="1.1" fill="#ff8000" stroke="none"/>
<circle cx="247.1" cy="51.0" r="1.1" fill="#ff8000" stroke="none"/>
<circle cx="257.1" cy="55.0" r="1.1" fill="#ff8000" stroke="none"/>
<circle cx="267.2" cy="58.0" r="1.1" fill="#ff8000" stroke="none"/>
<circle cx="277.6" cy="61.0" r="1.1" fill="#ff8000" stroke="none"/>
<circle cx="288.3" cy="64.0" r="1.1" fill="#ff8000" stroke="none"/>
<circle cx="298.3" cy="68.0" r="1.1" fill="#ff8000" stroke="none"/>
</g>
<g stroke="#464646" stroke-width="1" fill="none">
<rect x="91.3" y="3.05" width="238.2" height="101.95"/>
<rect x="91.3" y="131.1" width="238.2" height="101.80000000000001"/>
</g>
<g stroke="#464646" stroke-width="0.7" fill="none">
<path d="M91.3 3.05h2.6"/>
<path d="M91.3 9.85h1.5"/>
<path d="M91.3 16.64h2.6"/>
<path d="M91.3 23.44h1.5"/>
<path d="M91.3 30.24h2.6"/>
<path d="M91.3 37.03h1.5"/>
<path d="M91.3 43.83h2.6"/>
<path d="M91.3 50.63h1.5"/>
<path d="M91.3 57.42h2.6"/>
<path d="M91.3 64.22h1.5"/>
<path d="M91.3 71.02h2.6"/>
<path d="M91.3 77.81h1.5"/>
<path d="M91.3 84.61h2.6"/>
<path d="M91.3 91.41h1.5"/>
<path d="M91.3 98.20h2.6"/>
<path d="M91.3 105.00h1.5"/>
<path d="M91.3 131.10h2.6"/>
<path d="M91.3 143.82h1.5"/>
<path d="M91.3 156.55h2.6"/>
<path d="M91.3 169.28h1.5"/>
<path d="M91.3 182.00h2.6"/>
<path d="M91.3 194.72h1.5"/>
<path d="M91.3 207.45h2.6"/>
<path d="M91.3 220.18h1.5"/>
<path d="M91.3 232.90h2.6"/>
<path d="M91.30 105.0v-2.6"/>
<path d="M91.30 232.9v-2.6"/>
<path d="M99.50 105.0v-1.4"/>
<path d="M99.50 232.9v-1.4"/>
<path d="M106.43 105.0v-1.4"/>
<path d="M106.43 232.9v-1.4"/>
<path d="M112.43 105.0v-1.4"/>
<path d="M112.43 232.9v-1.4"/>
<path d="M117.73 105.0v-1.4"/>
<path d="M117.73 232.9v-1.4"/>
<path d="M122.46 105.0v-2.6"/>
<path d="M122.46 232.9v-2.6"/>
<path d="M153.62 105.0v-1.4"/>
<path d="M153.62 232.9v-1.4"/>
<path d="M171.85 105.0v-1.4"/>
<path d="M171.85 232.9v-1.4"/>
<path d="M184.79 105.0v-1.4"/>
<path d="M184.79 232.9v-1.4"/>
<path d="M194.82 105.0v-2.6"/>
<path d="M194.82 232.9v-2.6"/>
<path d="M203.02 105.0v-1.4"/>
<path d="M203.02 232.9v-1.4"/>
<path d="M209.95 105.0v-1.4"/>
<path d="M209.95 232.9v-1.4"/>
<path d="M215.95 105.0v-1.4"/>
<path d="M215.95 232.9v-1.4"/>
<path d="M221.24 105.0v-1.4"/>
<path d="M221.24 232.9v-1.4"/>
<path d="M225.98 105.0v-2.6"/>
<path d="M225.98 232.9v-2.6"/>
<path d="M257.14 105.0v-1.4"/>
<path d="M257.14 232.9v-2.6"/>
<path d="M275.37 105.0v-1.4"/>
<path d="M275.37 232.9v-1.4"/>
<path d="M288.31 105.0v-1.4"/>
<path d="M288.31 232.9v-1.4"/>
<path d="M298.34 105.0v-1.4"/>
<path d="M298.34 232.9v-1.4"/>
<path d="M306.53 105.0v-1.4"/>
<path d="M306.53 232.9v-1.4"/>
<path d="M313.46 105.0v-1.4"/>
<path d="M313.46 232.9v-1.4"/>
<path d="M319.47 105.0v-1.4"/>
<path d="M319.47 232.9v-1.4"/>
<path d="M324.76 105.0v-1.4"/>
<path d="M324.76 232.9v-1.4"/>
<path d="M329.50 105.0v-2.6"/>
<path d="M329.50 232.9v-2.6"/>
</g>
<g font-size="7.2" text-anchor="end">
<text x="87.9" y="5.55">0.25</text>
<text x="87.9" y="19.14">0.20</text>
<text x="87.9" y="32.74">0.15</text>
<text x="87.9" y="46.33">0.10</text>
<text x="87.9" y="59.92">0.05</text>
<text x="87.9" y="73.52">0.00</text>
<text x="87.9" y="87.11">-0.05</text>
<text x="87.9" y="100.70">-0.10</text>
<text x="87.9" y="107.90">-0.13</text>
<text x="87.9" y="133.60">0.15</text>
<text x="87.9" y="159.05">0.10</text>
<text x="87.9" y="184.50">0.05</text>
<text x="87.9" y="209.95">0.00</text>
<text x="87.9" y="235.40">-0.05</text>
</g>
<g font-size="7.1" text-anchor="middle">
<text x="91.30" y="114.20">50</text>
<text x="122.46" y="114.20">100</text>
<text x="194.82" y="114.20">500</text>
<text x="225.98" y="114.20">1000</text>
<text x="329.50" y="114.20">10000</text>
<text x="91.30" y="242.10">50</text>
<text x="122.46" y="242.10">100</text>
<text x="194.82" y="242.10">500</text>
<text x="225.98" y="242.10">1000</text>
<text x="257.14" y="242.10">2000</text>
<text x="329.50" y="242.10">10000</text>
</g>
<g font-size="8.6" text-anchor="middle">
<text x="210.3" y="122.2">Frequency (Hz)</text>
<text x="210.3" y="250.2">Frequency (Hz)</text>
</g>
<g font-size="8.7" style="stroke-width:0.25px">
<text x="53.8" y="6.6">(a)</text>
<text x="53.8" y="134.6">(b)</text>
</g>
<text transform="translate(67.6 54.9) rotate(-90)" font-size="8.9" text-anchor="middle" style="stroke-width:0.3px"><tspan font-style="italic" font-size="11" font-family="'DejaVu Sans', sans-serif" style="stroke-width:0.1px">β</tspan> (m)</text>
<text transform="translate(67.6 182.9) rotate(-90)" font-size="8.9" text-anchor="middle" style="stroke-width:0.3px"><tspan font-style="italic" font-size="11" font-family="'DejaVu Sans', sans-serif" style="stroke-width:0.1px">β</tspan> (m)</text>
<g stroke="#484848" stroke-width="0.7" fill="none">
<path d="M101.7 160.5V210.0M100.6 160.5h2.2M100.6 210.0h2.2"/>
<path d="M112.4 148.5V226.0M111.3 148.5h2.2M111.3 226.0h2.2"/>
<path d="M122.5 157.2V210.5M121.4 157.2h2.2M121.4 210.5h2.2"/>
<path d="M132.5 193.5V212.8M131.4 193.5h2.2M131.4 212.8h2.2"/>
<path d="M143.6 181.0V206.0M142.5 181.0h2.2M142.5 206.0h2.2"/>
<path d="M153.6 181.5V205.2M152.5 181.5h2.2M152.5 205.2h2.2"/>
<path d="M163.7 167.8V192.5M162.6 167.8h2.2M162.6 192.5h2.2"/>
<path d="M174.0 155.5V185.2M172.9 155.5h2.2M172.9 185.2h2.2"/>
<path d="M184.8 146.5V178.5M183.7 146.5h2.2M183.7 178.5h2.2"/>
<path d="M194.8 136.8V167.2M193.7 136.8h2.2M193.7 167.2h2.2"/>
<path d="M205.2 143.0V168.0M204.1 143.0h2.2M204.1 168.0h2.2"/>
<path d="M215.9 151.5V172.8M214.8 151.5h2.2M214.8 172.8h2.2"/>
<path d="M226.0 157.5V170.5M224.9 157.5h2.2M224.9 170.5h2.2"/>
<path d="M236.0 161.5V177.6M234.9 161.5h2.2M234.9 177.6h2.2"/>
<path d="M247.1 171.4V183.4M246.0 171.4h2.2M246.0 183.4h2.2"/>
<path d="M257.1 176.5V188.0M256.0 176.5h2.2M256.0 188.0h2.2"/>
<path d="M267.2 183.0V194.5M266.1 183.0h2.2M266.1 194.5h2.2"/>
<path d="M277.6 186.2V198.8M276.5 186.2h2.2M276.5 198.8h2.2"/>
<path d="M288.3 180.5V194.5M287.2 180.5h2.2M287.2 194.5h2.2"/>
<path d="M298.3 184.5V201.2M297.2 184.5h2.2M297.2 201.2h2.2"/>
<path d="M308.7 178.8V196.2M307.6 178.8h2.2M307.6 196.2h2.2"/>
<path d="M319.5 185.5V207.5M318.4 185.5h2.2M318.4 207.5h2.2"/>
</g>
<path d="M91.3 163.5L101.7 185.5L112.4 187.5L122.5 184.0L132.5 202.8L143.6 193.5L153.6 193.2L163.7 180.0L174.0 170.5L184.8 162.2L194.8 151.8L205.2 155.5L215.9 162.0L226.0 164.0L236.0 169.4L247.1 177.5L257.1 182.4L267.2 188.5L277.6 192.5L288.3 187.5L298.3 193.0L308.7 187.5L319.5 196.5L329.5 186.2" stroke="#111" stroke-width="0.9" fill="none"/>
<circle cx="91.3" cy="163.5" r="1.25" fill="#111"/>
<circle cx="101.7" cy="185.5" r="1.25" fill="#111"/>
<circle cx="112.4" cy="187.5" r="1.25" fill="#111"/>
<circle cx="122.5" cy="184.0" r="1.25" fill="#111"/>
<circle cx="132.5" cy="202.8" r="1.25" fill="#111"/>
<circle cx="143.6" cy="193.5" r="1.25" fill="#111"/>
<circle cx="153.6" cy="193.2" r="1.25" fill="#111"/>
<circle cx="163.7" cy="180.0" r="1.25" fill="#111"/>
<circle cx="174.0" cy="170.5" r="1.25" fill="#111"/>
<circle cx="184.8" cy="162.2" r="1.25" fill="#111"/>
<circle cx="194.8" cy="151.8" r="1.25" fill="#111"/>
<circle cx="205.2" cy="155.5" r="1.25" fill="#111"/>
<circle cx="215.9" cy="162.0" r="1.25" fill="#111"/>
<circle cx="226.0" cy="164.0" r="1.25" fill="#111"/>
<circle cx="236.0" cy="169.4" r="1.25" fill="#111"/>
<circle cx="247.1" cy="177.5" r="1.25" fill="#111"/>
<circle cx="257.1" cy="182.4" r="1.25" fill="#111"/>
<circle cx="267.2" cy="188.5" r="1.25" fill="#111"/>
<circle cx="277.6" cy="192.5" r="1.25" fill="#111"/>
<circle cx="288.3" cy="187.5" r="1.25" fill="#111"/>
<circle cx="298.3" cy="193.0" r="1.25" fill="#111"/>
<circle cx="308.7" cy="187.5" r="1.25" fill="#111"/>
<circle cx="319.5" cy="196.5" r="1.25" fill="#111"/>
<circle cx="329.5" cy="186.2" r="1.25" fill="#111"/>
<path d="M278 141.8H297" stroke="#111" stroke-width="0.9"/><circle cx="287.5" cy="141.8" r="1.25" fill="#111"/>
<text x="299.6" y="144.8" font-size="8.5">Mean</text>
<rect x="343.2" y="23.6" width="50.3" height="164.4" fill="#fff" stroke="#464646" stroke-width="0.9"/>
<g font-size="5.58">
<path d="M344.5 27.75H357.5" stroke="#000" stroke-width="0.85"/>
<rect x="350.0" y="26.75" width="2" height="2" fill="#000"/>
<text x="359" y="29.75">H1</text>
<path d="M344.5 34.55H357.5" stroke="#ff0000" stroke-width="0.85"/>
<circle cx="351" cy="34.55" r="1.1" fill="#ff0000"/>
<text x="359" y="36.55">H2</text>
<path d="M344.5 41.36H357.5" stroke="#00ff00" stroke-width="0.85"/>
<circle cx="351" cy="41.36" r="1.1" fill="#00ff00"/>
<text x="359" y="43.36">H3</text>
<path d="M344.5 48.16H357.5" stroke="#00ffff" stroke-width="0.85"/>
<circle cx="351" cy="48.16" r="1.1" fill="#00ffff"/>
<text x="359" y="50.16">H4</text>
<path d="M344.5 54.97H357.5" stroke="#0000ff" stroke-width="0.85"/>
<circle cx="351" cy="54.97" r="1.1" fill="#0000ff"/>
<text x="359" y="56.97">Gomperts,M1</text>
<path d="M344.5 61.77H357.5" stroke="#ff00ff" stroke-width="0.85"/>
<circle cx="351" cy="61.77" r="1.1" fill="#ff00ff"/>
<text x="359" y="63.77">Gomperts,M2</text>
<path d="M344.5 68.57H357.5" stroke="#808000" stroke-width="0.85"/>
<circle cx="351" cy="68.57" r="1.1" fill="#808000"/>
<text x="359" y="70.57">Sauro, S1</text>
<path d="M344.5 75.38H357.5" stroke="#ff8000" stroke-width="0.85"/>
<circle cx="351" cy="75.38" r="1.1" fill="#ff8000"/>
<text x="359" y="77.38">Sauro, S2</text>
<path d="M344.5 82.18H357.5" stroke="#000" stroke-width="0.85" stroke-dasharray="1.6 2.4 5 2.4 1.6"/>
<rect x="350.0" y="81.18" width="2" height="2" fill="#000"/>
<text x="359" y="84.18">Sauro, S2</text>
<path d="M344.5 88.99H357.5" stroke="#ff0000" stroke-width="0.85" stroke-dasharray="1.6 2.4 5 2.4 1.6"/>
<circle cx="351" cy="88.99" r="1.1" fill="#ff0000"/>
<text x="359" y="90.99">Thomasson</text>
<path d="M344.5 95.79H357.5" stroke="#00ff00" stroke-width="0.85" stroke-dasharray="1.6 2.4 5 2.4 1.6"/>
<circle cx="351" cy="95.79" r="1.1" fill="#00ff00"/>
<text x="359" y="97.79">Hughes</text>
<path d="M344.5 102.59H357.5" stroke="#00ffff" stroke-width="0.85" stroke-dasharray="1.6 2.4 5 2.4 1.6"/>
<circle cx="351" cy="102.59" r="1.1" fill="#00ffff"/>
<text x="359" y="104.59">Bartel, M1</text>
<path d="M344.5 109.40H357.5" stroke="#0000ff" stroke-width="0.85" stroke-dasharray="1.6 2.4 5 2.4 1.6"/>
<circle cx="351" cy="109.40" r="1.1" fill="#0000ff"/>
<text x="359" y="111.40">Bartel, M2</text>
<path d="M344.5 116.20H357.5" stroke="#ff00ff" stroke-width="0.85" stroke-dasharray="1.6 2.4 5 2.4 1.6"/>
<circle cx="351" cy="116.20" r="1.1" fill="#ff00ff"/>
<text x="359" y="118.20">Bartel, M3</text>
<path d="M344.5 123.01H357.5" stroke="#808000" stroke-width="0.85" stroke-dasharray="1.6 2.4 5 2.4 1.6"/>
<circle cx="351" cy="123.01" r="1.1" fill="#808000"/>
<text x="359" y="125.01">Ten Wolde,A</text>
<path d="M344.5 129.81H357.5" stroke="#ffb870" stroke-width="0.85" stroke-dasharray="1.6 2.4 5 2.4 1.6"/>
<circle cx="351" cy="129.81" r="1.1" fill="#ffb870"/>
<text x="359" y="131.81">Ten Wolde,B</text>
<path d="M344.5 136.61H357.5" stroke="#000" stroke-width="0.85" stroke-dasharray="3.8 20"/>
<rect x="350.0" y="135.61" width="2" height="2" fill="#000"/>
<text x="359" y="138.61">Ten Wolde,C</text>
<path d="M344.5 143.42H357.5" stroke="#ff0000" stroke-width="0.85" stroke-dasharray="3.8 20"/>
<circle cx="351" cy="143.42" r="1.1" fill="#ff0000"/>
<text x="359" y="145.42">Ten Wolde,D</text>
<path d="M344.5 150.22H357.5" stroke="#00ff00" stroke-width="0.85" stroke-dasharray="3.8 20"/>
<circle cx="351" cy="150.22" r="1.1" fill="#00ff00"/>
<text x="359" y="152.22">Vercammen</text>
<path d="M344.5 157.03H357.5" stroke="#00ffff" stroke-width="0.85" stroke-dasharray="3.8 20"/>
<circle cx="351" cy="157.03" r="1.1" fill="#00ffff"/>
<text x="359" y="159.03">Kawai</text>
<path d="M344.5 163.83H357.5" stroke="#0000ff" stroke-width="0.85" stroke-dasharray="3.8 20"/>
<circle cx="351" cy="163.83" r="1.1" fill="#0000ff"/>
<text x="359" y="165.83">Dekker, M1</text>
<path d="M344.5 170.63H357.5" stroke="#ff00ff" stroke-width="0.85" stroke-dasharray="3.8 20"/>
<circle cx="351" cy="170.63" r="1.1" fill="#ff00ff"/>
<text x="359" y="172.63">Dekker, M2</text>
<path d="M344.5 177.44H357.5" stroke="#808000" stroke-width="0.85" stroke-dasharray="3.8 20"/>
<circle cx="351" cy="177.44" r="1.1" fill="#808000"/>
<text x="359" y="179.44">Northwood</text>
<path d="M344.5 184.24H357.5" stroke="#ff8000" stroke-width="0.85" stroke-dasharray="3.8 20"/>
<circle cx="351" cy="184.24" r="1.1" fill="#ff8000"/>
<text x="359" y="186.24">Davern</text>
</g>
</svg>
</body></html>
